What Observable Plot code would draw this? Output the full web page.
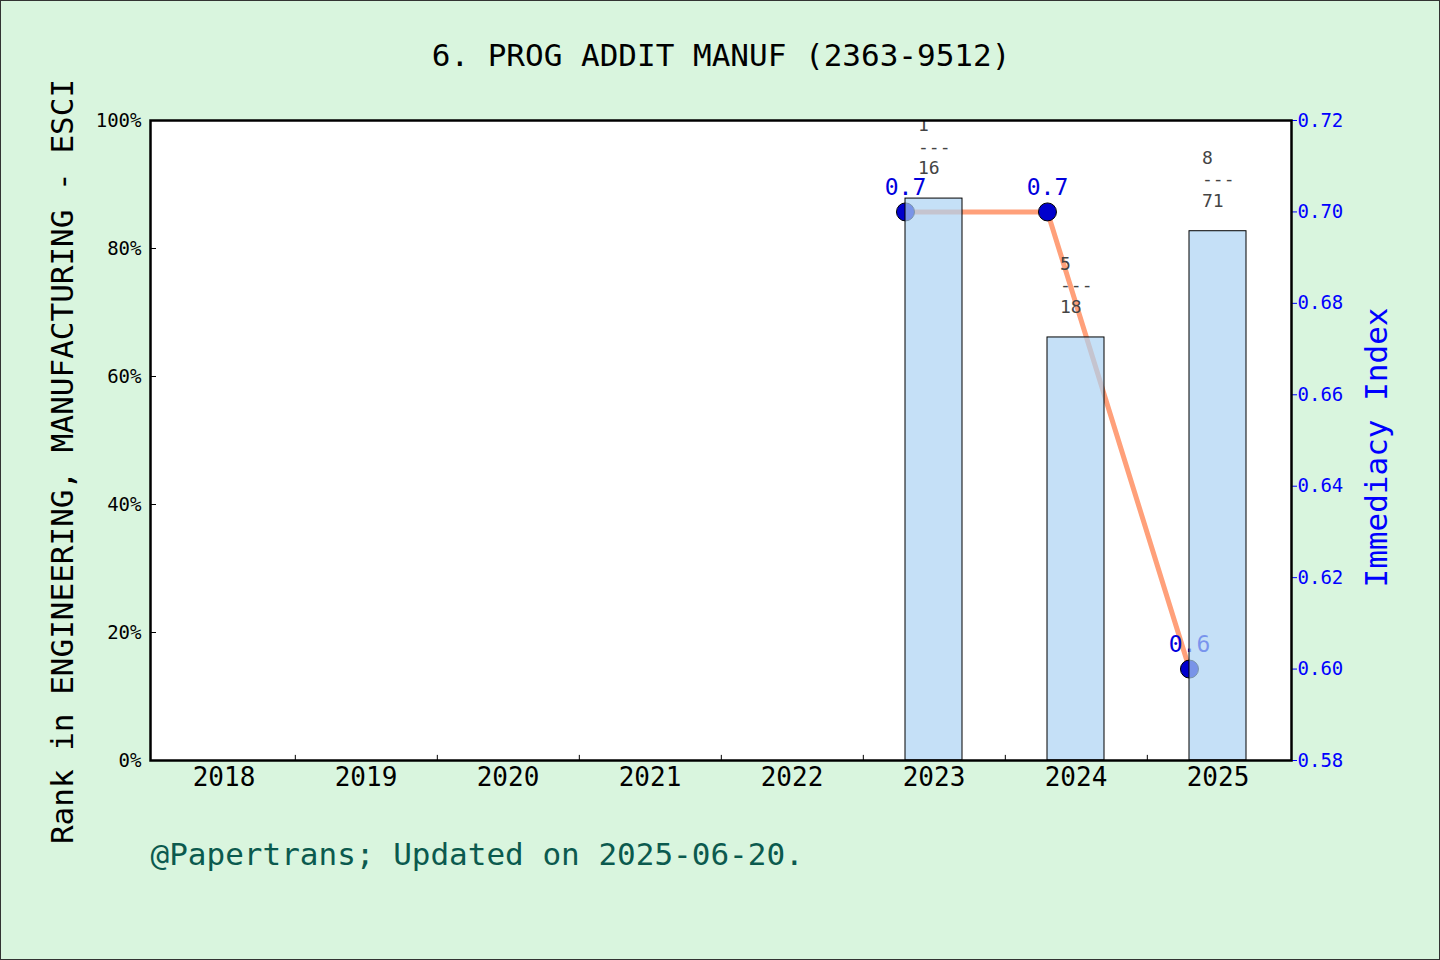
<!DOCTYPE html>
<html>
<head>
<meta charset="utf-8">
<script src="https://cdn.jsdelivr.net/npm/d3@7"></script>
<script src="https://cdn.jsdelivr.net/npm/@observablehq/plot@0.6"></script>
<style>
  html, body { margin: 0; padding: 0; background: #d9f5de; }
  #chart svg { display: block; outline: 1px solid #333; outline-offset: -1px; }
</style>
</head>
<body>
<div id="chart"></div>
<script>
// ---- data ----
const years = ["2018", "2019", "2020", "2021", "2022", "2023", "2024", "2025"];
const barYears = ["2023", "2024", "2025"];
const rankPct = [0.878, 0.661, 0.827];
const rankPos = [1, 5, 8];
const rankTotal = [16, 18, 71];
const immYears = ["2023", "2024", "2025"];
const immediacy = [0.70, 0.70, 0.60];
const immLabels = ["0.7", "0.7", "0.6"];
const leftTicks = [0, 0.2, 0.4, 0.6, 0.8, 1.0];
const rightTicks = [0.58, 0.60, 0.62, 0.64, 0.66, 0.68, 0.70, 0.72];
const rightDomain = [0.58, 0.72];
const title = "6. PROG ADDIT MANUF (2363-9512)";
const leftLabel = "Rank in ENGINEERING, MANUFACTURING - ESCI";
const rightLabel = "Immediacy Index";
const footer = "@Papertrans; Updated on 2025-06-20.";

// map the secondary (immediacy) axis onto the primary 0..1 y scale
const toLeft = v => (v - rightDomain[0]) / (rightDomain[1] - rightDomain[0]);
const fromLeft = p => rightDomain[0] + p * (rightDomain[1] - rightDomain[0]);

const W = 1440, H = 960, ML = 150, MR = 149, MT = 120, MB = 200;
const FW = W - ML - MR;
const step = FW / years.length;
const bw = step * 0.4;
const FONT = "DejaVu Sans Mono";

const chart = Plot.plot({
  width: W,
  height: H,
  marginLeft: ML,
  marginRight: MR,
  marginTop: MT,
  marginBottom: MB,
  style: { background: "#d9f5de", fontFamily: FONT, overflow: "visible" },
  x: { type: "band", domain: years, paddingInner: 0.6, paddingOuter: 0.3 },
  y: { domain: [0, 1] },
  marks: [
    Plot.frame({ fill: "white" }),
    // x axis labels and boundary ticks
    Plot.axisX({ tickSize: 0, tickPadding: 7, fontSize: 26, label: null, fill: "black" }),
    Plot.ruleX(years.slice(0, -1), { x: d => d, dx: step / 2, y1: 0, y2: 0.008, stroke: "black", strokeWidth: 1 }),
    // left axis: inward ticks + labels
    Plot.ruleY(leftTicks, { y: d => d, insetRight: FW - 6, stroke: "black", strokeWidth: 1 }),
    Plot.axisY(leftTicks, { anchor: "left", tickFormat: d3.format(".0%"), tickSize: 0, tickPadding: 9, fontSize: 19, label: null }),
    // right axis (immediacy)
    Plot.axisY(rightTicks.map(toLeft), { anchor: "right", tickFormat: d => fromLeft(d).toFixed(2), tickSize: 5, tickPadding: 1, fontSize: 19, color: "blue", label: null }),
    // immediacy line, dots, labels
    Plot.line(immediacy, { x: immYears, y: immediacy.map(toLeft), dx: -bw / 2, stroke: "#ffa07a", strokeWidth: 5 }),
    Plot.dot(immediacy, { x: immYears, y: immediacy.map(toLeft), dx: -bw / 2, r: 9, fill: "#0000cd", stroke: "black", strokeWidth: 1 }),
    Plot.text(immLabels, { x: immYears, y: immediacy.map(toLeft), text: immLabels, dx: -bw / 2, dy: -24, fill: "#0000dd", fontSize: 23 }),
    // rank bars (semi-transparent, drawn over line)
    Plot.barY(rankPct, { x: barYears, y: rankPct, fill: "rgb(172,211,244)", fillOpacity: 0.7, stroke: "black", strokeWidth: 1 }),
    Plot.text(rankPct, {
      x: barYears, y: rankPct,
      text: rankPct.map((d, i) => `${rankPos[i]}\n---\n${rankTotal[i]}`),
      textAnchor: "start", lineAnchor: "middle", lineHeight: 1.2,
      dx: -16, dy: -53, fill: "#444", fontSize: 18, clip: true
    }),
    Plot.frame({ stroke: "black", strokeWidth: 2.5 }),
    // titles
    Plot.text([title], { frameAnchor: "top", lineAnchor: "middle", textAnchor: "middle", dy: -64, fontSize: 31, fill: "black" }),
    Plot.text([leftLabel], { frameAnchor: "left", textAnchor: "middle", lineAnchor: "middle", dx: -87, dy: 21, rotate: -90, fontSize: 31, fill: "black" }),
    Plot.text([rightLabel], { frameAnchor: "right", textAnchor: "middle", lineAnchor: "middle", dx: 86, dy: 7, rotate: -90, fontSize: 31, fill: "blue" }),
    Plot.text([footer], { frameAnchor: "bottom-left", textAnchor: "start", lineAnchor: "middle", dy: 95, fontSize: 31, fill: "#0b5a4e" })
  ]
});
document.getElementById("chart").appendChild(chart);
</script>
</body>
</html>
